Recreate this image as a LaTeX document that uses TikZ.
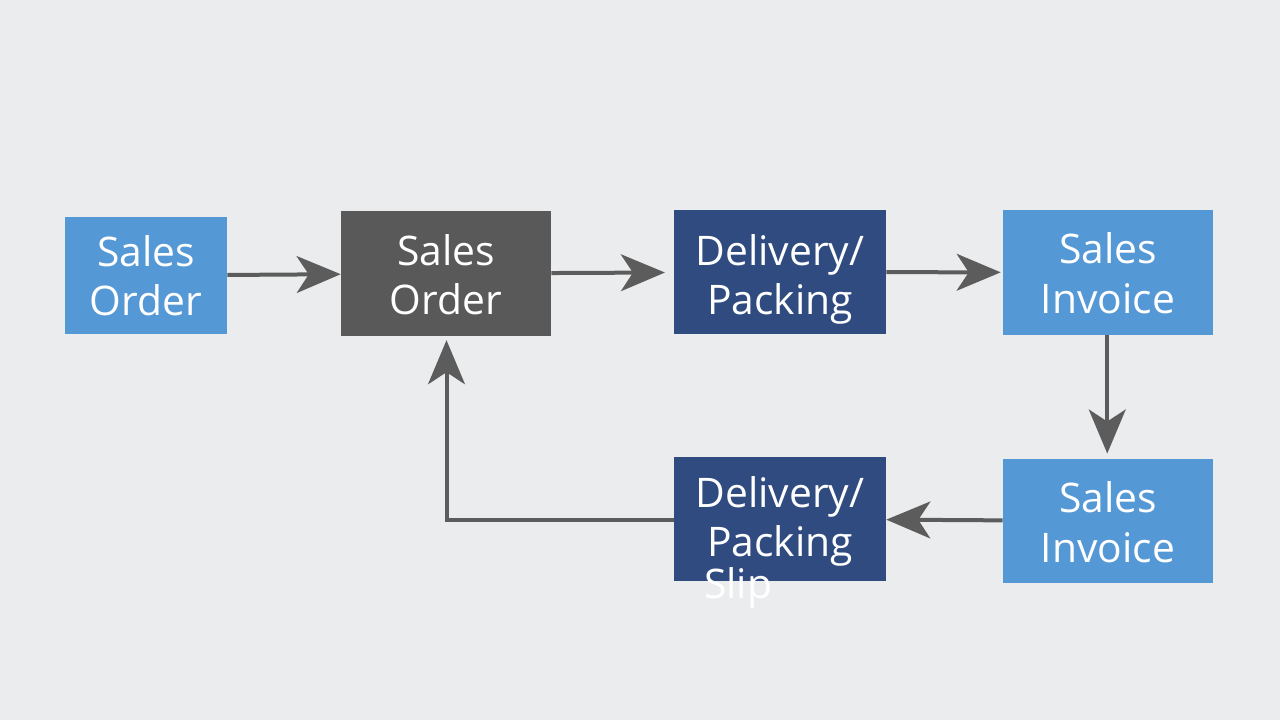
\documentclass[tikz,border=0pt]{standalone}
\usepackage{fontspec}
\setmainfont{Open Sans}
\usetikzlibrary{arrows.meta}
\definecolor{pagegrey}{HTML}{EBECED}
\definecolor{lightblue}{HTML}{5598D6}
\definecolor{darkgrey}{HTML}{595959}
\definecolor{navyblue}{HTML}{2F4B80}
\definecolor{linegrey}{HTML}{5C5C5C}
\newcommand{\toprule}[1]{\rule{0pt}{#1}}
\tikzset{
  docbox/.style={minimum height=3.12cm, text=white, align=center,
    font=\fontsize{29}{35}\selectfont,
    execute at end node={\rule[-8pt]{0pt}{0pt}}},
  flow/.style={draw=linegrey, line width=0.1cm,
    -{Stealth[length=1.1cm,width=0.92cm,inset=0.3cm]}}
}
\begin{document}
\begin{tikzpicture}[scale=0.25]
            \tikzstyle{every node}+=[inner sep=0pt]
            \fill [pagegrey] (0,0) rectangle (128,-72);
            \useasboundingbox (0,0) rectangle (128,-72);
            \node [docbox, fill=lightblue, minimum width=4.05cm, minimum height=2.93cm] (order) at (14.6,-27.55) {\toprule{30pt}Sales\\Order};
            \node [docbox, fill=darkgrey, minimum width=5.25cm] (salesorder) at (44.6,-27.35) {\toprule{31.4pt}Sales\\Order};
            \node [docbox, fill=navyblue, minimum width=5.3cm] (delivery) at (78,-27.2) {\toprule{33.6pt}Delivery/\\Packing};
            \node [docbox, fill=lightblue, minimum width=5.25cm] (invoice) at (110.8,-27.25) {\toprule{30.8pt}Sales\\Invoice};
            \node [docbox, fill=lightblue, minimum width=5.25cm] (invoicetwo) at (110.8,-52.1) {\toprule{31.4pt}Sales\\Invoice};
            \node [docbox, fill=navyblue, minimum width=5.3cm] (slipbox) at (78,-51.9) {\toprule{26.4pt}Delivery/\\Packing};
            \node [text=white, font=\fontsize{29}{35}\selectfont] (sliptext) at (73.8,-58.8) {Slip};
            \draw [flow] (order) -- (salesorder);
            \draw [flow, shorten >=0.22cm] (salesorder) -- (delivery);
            \draw [flow, shorten >=0.05cm] (delivery) -- (invoice);
            \draw [flow, shorten >=0.12cm] ([xshift=-0.075cm]invoice.south) -- ([xshift=-0.075cm]invoicetwo.north);
            \draw [flow] (invoicetwo) -- (slipbox);
            \draw [flow, shorten >=0.1cm] ([yshift=-0.05cm]slipbox.west) -| ([xshift=0.05cm]salesorder.south);
\end{tikzpicture}
\end{document}
